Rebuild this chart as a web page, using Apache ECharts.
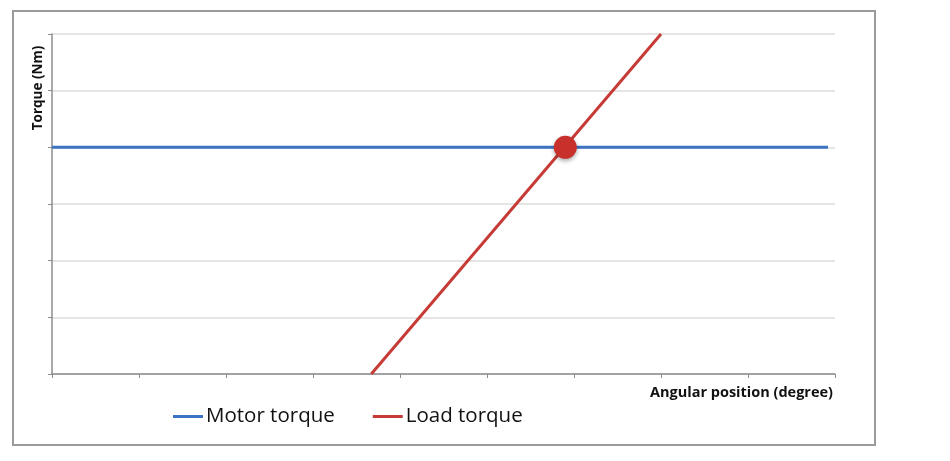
<!DOCTYPE html>
<html>
<head>
<meta charset="utf-8">
<script src="https://cdn.jsdelivr.net/npm/echarts@6/dist/echarts.min.js"></script>
<style>
  html, body { margin: 0; padding: 0; background: #fff; }
  #main { width: 950px; height: 461px; }
</style>
</head>
<body>
<div id="main"></div>
<script>
// data (x in tick units, y in gridline units)
var seriesNames = ['Motor torque', 'Load torque'];
var motorTorque = [[0, 4], [8.92, 4]];
var loadTorque = [[3.67, 0], [7.0, 6]];
var operatingPoint = [[5.9, 4]];
var xName = 'Angular position (degree)';
var yName = 'Torque (Nm)';

var chart = echarts.init(document.getElementById('main'));

var blue = '#3c73c2';
var red = '#c63b36';

chart.setOption({
  animation: false,
  grid: { left: 52, top: 34, right: 115, bottom: 87 },
  legend: {
    data: seriesNames.map(function (n) { return { name: n, icon: 'rect' }; }),
    left: 168,
    top: 401,
    itemWidth: 30,
    itemHeight: 3,
    itemGap: 38,
    textStyle: { fontFamily: 'Open Sans', fontSize: 20.5, color: '#111', padding: [0, 0, 0, -2] }
  },
  xAxis: {
    type: 'value',
    min: 0, max: 9, interval: 1,
    axisLine: { show: true, lineStyle: { color: '#8c8c8c', width: 1.5 } },
    axisTick: { show: true, length: 4, inside: false, lineStyle: { color: '#8c8c8c' } },
    axisLabel: { show: false },
    splitLine: { show: false }
  },
  yAxis: {
    type: 'value',
    min: 0, max: 6, interval: 1,
    axisLine: { show: true, lineStyle: { color: '#8c8c8c', width: 1.5 } },
    axisTick: { show: true, length: 4, lineStyle: { color: '#8c8c8c' } },
    axisLabel: { show: false },
    splitLine: { show: true, lineStyle: { color: '#dcdcdc', width: 1.5 } }
  },
  graphic: [
    {
      type: 'rect', silent: true,
      shape: { x: 13, y: 11, width: 862, height: 434 },
      style: { fill: 'none', stroke: '#9a9a9a', lineWidth: 2 }
    },
    {
      type: 'text', x: 38, y: 88, rotation: Math.PI / 2,
      style: {
        text: yName, fontFamily: 'Open Sans', fontWeight: 'bold', fontSize: 13.5,
        fill: '#111', align: 'center', verticalAlign: 'middle'
      }
    },
    {
      type: 'text', x: 833, y: 393,
      style: {
        text: xName, fontFamily: 'Open Sans', fontWeight: 'bold', fontSize: 14.5,
        fill: '#111', align: 'right', verticalAlign: 'middle'
      }
    }
  ],
  series: [
    {
      name: seriesNames[0],
      type: 'line',
      data: motorTorque,
      symbol: 'none',
      lineStyle: { color: blue, width: 3 },
      itemStyle: { color: blue }
    },
    {
      name: seriesNames[1],
      type: 'line',
      data: loadTorque,
      symbol: 'none',
      lineStyle: { color: red, width: 3 },
      itemStyle: { color: red }
    },
    {
      name: 'Operating point',
      type: 'scatter',
      data: operatingPoint,
      symbolSize: 23,
      itemStyle: {
        color: '#c8302c',
        opacity: 1,
        shadowColor: 'rgba(0,0,0,0.35)',
        shadowBlur: 4,
        shadowOffsetY: 2
      },
      z: 5
    }
  ]
});
</script>
</body>
</html>
